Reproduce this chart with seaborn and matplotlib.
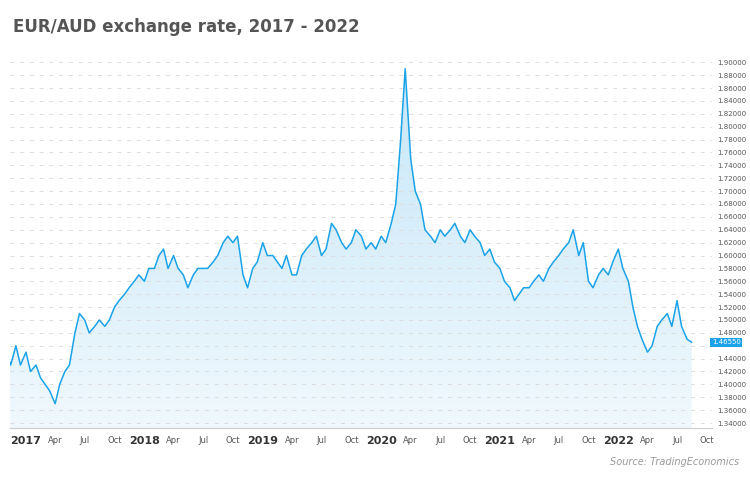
import numpy as np
import pandas as pd
import matplotlib
matplotlib.use("Agg")
import matplotlib.pyplot as plt
import matplotlib.dates as mdates
import seaborn as sns

# semi-monthly EUR/AUD closes (Nov 2016 - Aug 2022)
dates = pd.date_range("2016-11-01", "2022-08-15", freq="SMS")
rates = [
    1.45, 1.43, 1.46, 1.43,
    1.45, 1.42, 1.43, 1.41, 1.40, 1.39, 1.37, 1.40, 1.42, 1.43, 1.48, 1.51,
    1.50, 1.48, 1.49, 1.50, 1.49, 1.50, 1.52, 1.53, 1.54, 1.55, 1.56, 1.57,
    1.56, 1.58, 1.58, 1.60, 1.61, 1.58, 1.60, 1.58, 1.57, 1.55, 1.57, 1.58,
    1.58, 1.58, 1.59, 1.60, 1.62, 1.63, 1.62, 1.63, 1.57, 1.55, 1.58, 1.59,
    1.62, 1.60, 1.60, 1.59, 1.58, 1.60, 1.57, 1.57, 1.60, 1.61, 1.62, 1.63,
    1.60, 1.61, 1.65, 1.64, 1.62, 1.61, 1.62, 1.64, 1.63, 1.61, 1.62, 1.61,
    1.63, 1.62, 1.65, 1.68, 1.78, 1.89, 1.75, 1.70, 1.68, 1.64, 1.63, 1.62,
    1.64, 1.63, 1.64, 1.65, 1.63, 1.62, 1.64, 1.63, 1.62, 1.60, 1.61, 1.59,
    1.58, 1.56, 1.55, 1.53, 1.54, 1.55, 1.55, 1.56, 1.57, 1.56, 1.58, 1.59,
    1.60, 1.61, 1.62, 1.64, 1.60, 1.62, 1.56, 1.55, 1.57, 1.58, 1.57, 1.59,
    1.61, 1.58, 1.56, 1.52, 1.49, 1.47, 1.45, 1.46, 1.49, 1.50, 1.51, 1.49,
    1.53, 1.49, 1.47, 1.4655,
]
df = pd.DataFrame({"date": dates[:len(rates)], "rate": rates})

line_c = "#1aa3e8"
fig = plt.figure(figsize=(7.5, 4.8), dpi=100)
ax = fig.add_axes([0.013, 0.108, 0.936, 0.777])
sns.lineplot(data=df, x="date", y="rate", ax=ax, color=line_c, linewidth=1.1)

ylo, yhi = 1.332, 1.911
xlo, xhi = pd.Timestamp("2016-11-12"), pd.Timestamp("2022-10-16")

# gradient fill under the line
poly = ax.fill_between(df["date"], df["rate"], ylo, color="none")
grad = np.linspace(0, 1, 256).reshape(-1, 1)
cmap = matplotlib.colors.LinearSegmentedColormap.from_list("g", ["#f0f8fd", "#c6e7f8"])
x0, x1 = mdates.date2num(df["date"].iloc[0]), mdates.date2num(df["date"].iloc[-1])
im = ax.imshow(grad, cmap=cmap, aspect="auto", origin="lower",
               extent=[x0, x1, ylo, max(rates)], zorder=0)
im.set_clip_path(poly.get_paths()[0], transform=ax.transData)
ax.set_xlim(xlo, xhi)
ax.set_ylim(ylo, yhi)

ax.yaxis.tick_right()
yt = np.arange(1.34, 1.901, 0.02)
ax.set_yticks(yt)
ax.set_yticklabels(["" if abs(v - 1.46) < 1e-6 else f"{v:.5f}" for v in yt],
                   fontsize=5, color="#555555")
ax.tick_params(axis="y", length=0, pad=4)
ax.grid(axis="y", linestyle=(0, (4, 6)), color="#dddddd", linewidth=0.7)

xt, xl = [], []
for yr in range(2017, 2023):
    for m, lab in [(1, str(yr)), (4, "Apr"), (7, "Jul"), (10, "Oct")]:
        xt.append(pd.Timestamp(yr, m, 1))
        xl.append(lab)
ax.set_xticks(xt)
ax.set_xticklabels(xl)
for t in ax.get_xticklabels():
    if t.get_text().isdigit():
        t.set_fontsize(8); t.set_color("#333333"); t.set_fontweight("bold")
    else:
        t.set_fontsize(6); t.set_color("#555555")
ax.tick_params(axis="x", length=0, pad=6)
ax.set_xlabel(""); ax.set_ylabel("")
for s in ["top", "left", "right"]:
    ax.spines[s].set_visible(False)
ax.spines["bottom"].set_color("#cccccc")

ax.text(1.0, rates[-1], f"{rates[-1]:.5f}", transform=ax.get_yaxis_transform(),
        fontsize=5, color="white", va="center", ha="left",
        bbox=dict(boxstyle="square,pad=0.2", fc=line_c, ec="none"))

fig.text(0.017, 0.943, "EUR/AUD exchange rate, 2017 - 2022", fontsize=12,
         fontweight="bold", color="#555555", va="center")
fig.text(0.985, 0.032, "Source: TradingEconomics", fontsize=7, style="italic",
         color="#999999", ha="right")
fig.savefig("out.png", dpi=100)
